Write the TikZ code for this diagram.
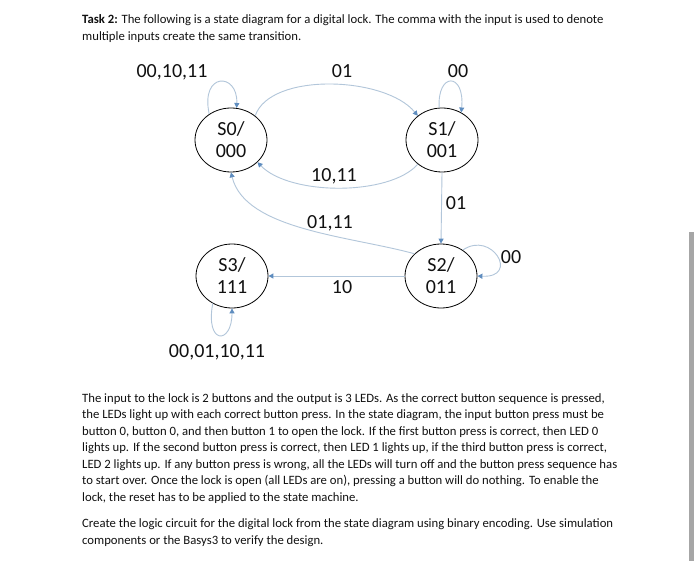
\documentclass[tikz,border=0pt]{standalone}
\usepackage{fontspec}
\setmainfont{Carlito}
\usetikzlibrary{shapes.geometric,arrows.meta}
\definecolor{lineC}{HTML}{B2C6DA}
\definecolor{tipC}{HTML}{5F8DBF}
\definecolor{barC}{HTML}{A6A6A6}
\definecolor{txtC}{HTML}{111111}
\begin{document}
\begin{tikzpicture}[x=1pt,y=-1pt,
  body/.style={anchor=base west, inner sep=0pt, text=txtC, font=\fontsize{12.7}{15}\selectfont},
  lbl/.style={anchor=base, inner sep=0pt, text=txtC, font=\fontsize{20}{22}\selectfont},
  state/.style={ellipse, draw=black, line width=0.8pt, minimum width=72pt, minimum height=64pt, inner sep=0pt, align=center, text=txtC, font=\fontsize{20}{22}\selectfont},
  edge/.style={draw=lineC, line width=0.9pt, -{Triangle[length=5pt,width=5pt,color=tipC]}}]
\fill[white] (0,0) rectangle (700,561);
\useasboundingbox (0,0) rectangle (700,561);
% header
\node[body] (t1) at (82,24) {\textbf{Task 2:} The following is a state diagram for a digital lock. The comma with the input is used to denote};
\node[body] (t2) at (82,41) {multiple inputs create the same transition.};
% states
\node[state] (s0) at (231,140) {S0/\\000};
\node[state] (s1) at (442,140) {S1/\\001};
\node[state] (s2) at (441,276) {S2/\\011};
\node[state] (s3) at (232,276) {S3/\\111};
% connectors
\draw[edge] (s0.130) .. controls (200,72) and (238,72) .. (s0.80);
\draw[edge] (s0.45) .. controls (270,72) and (385,76) .. (s1.135);
\draw[edge] (s1.95) .. controls (437,72) and (465,72) .. (s1.55);
\draw[edge] (s1.225) .. controls (390,196) and (290,196) .. (s0.-40);
\draw[edge] (s1.south) -- (s2.north);
\draw[edge] (s2.140) .. controls (350,236) and (245,230) .. (s0.south);
\draw[edge] (s2.50) .. controls (492,230) and (520,278) .. (s2.0);
\draw[edge] (s2.west) -- (s3.east);
\draw[edge] (s3.235) .. controls (205,345) and (232,345) .. (s3.south);
% labels
\node[lbl] (l1) at (172,77.5) {00,10,11};
\node[lbl] (l2) at (342,77.5) {01};
\node[lbl] (l3) at (458,77.5) {00};
\node[lbl] (l4) at (334,181.5) {10,11};
\node[lbl] (l5) at (456,209.5) {01};
\node[lbl] (l6) at (330,228.5) {01,11};
\node[lbl] (l7) at (511,263.5) {00};
\node[lbl] (l8) at (342,293.5) {10};
\node[lbl] (l9) at (217,357.5) {00,01,10,11};
% paragraph
\node[body] (p1) at (82,402) {The input to the lock is 2 buttons and the output is 3 LEDs. As the correct button sequence is pressed,};
\node[body] (p2) at (82,418.5) {the LEDs light up with each correct button press. In the state diagram, the input button press must be};
\node[body] (p3) at (82,435) {button 0, button 0, and then button 1 to open the lock. If the first button press is correct, then LED 0};
\node[body] (p4) at (82,451.5) {lights up. If the second button press is correct, then LED 1 lights up, if the third button press is correct,};
\node[body] (p5) at (82,468) {LED 2 lights up. If any button press is wrong, all the LEDs will turn off and the button press sequence has};
\node[body] (p6) at (82,484.5) {to start over. Once the lock is open (all LEDs are on), pressing a button will do nothing. To enable the};
\node[body] (p7) at (82,501) {lock, the reset has to be applied to the state machine.};
\node[body] (p8) at (82,527.5) {Create the logic circuit for the digital lock from the state diagram using binary encoding. Use simulation};
\node[body] (p9) at (82,544) {components or the Basys3 to verify the design.};
% scrollbar
\fill[barC] (689,232) rectangle (694,561);
\end{tikzpicture}
\end{document}
